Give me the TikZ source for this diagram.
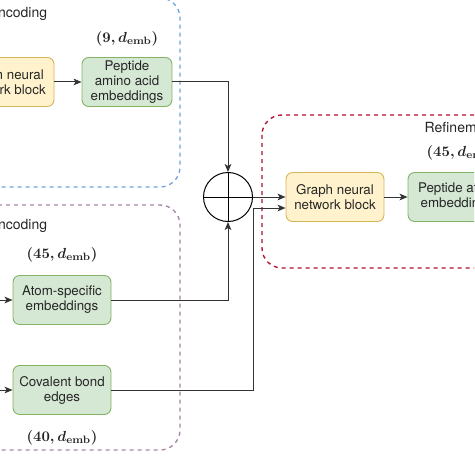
\documentclass[tikz,border=0pt]{standalone}
\usepackage{amsmath}
\usepackage{xcolor}
\usepackage[no-math]{fontspec}
\setmainfont{TeX Gyre Heros}
\usetikzlibrary{arrows.meta}
\usetikzlibrary{positioning}
\definecolor{gnnfill}{HTML}{FFF2CC}
\definecolor{gnndraw}{HTML}{D6B656}
\definecolor{embfill}{HTML}{D5E8D4}
\definecolor{embdraw}{HTML}{82B366}
\definecolor{seqframe}{HTML}{6FA3DC}
\definecolor{atomframe}{HTML}{A385A5}
\definecolor{refframe}{HTML}{B2102E}
\colorlet{linkcol}{black!80}
\newcommand{\embdim}[1]{{\boldmath$(#1, d_{\mathrm{emb}})$}}

\begin{document}
\begin{tikzpicture}[
x=0.75pt, y=-0.75pt,
Block/.style={draw, rounded corners=5pt, line width=0.7pt, minimum width=73.5pt,
  minimum height=36.75pt, inner sep=1pt, align=center, text=black!85,
  font=\fontsize{10}{11.25}\selectfont},
GnnBlock/.style={Block, draw=gnndraw, fill=gnnfill},
EmbBlock/.style={Block, draw=embdraw, fill=embfill},
Frame/.style={line width=1pt, dash pattern=on 3pt off 3pt, rounded corners=15pt},
Link/.style={draw=linkcol, line width=0.75pt, -{Stealth[length=6pt, width=5pt, inset=1.5pt]}},
Title/.style={anchor=west, text=black!85, font=\fontsize{10.5}{12}\selectfont},
Shape/.style={text=black!85, font=\fontsize{11}{12}\selectfont}
]
\clip (0,0) rectangle (474,474);

% frames
\draw[Frame, seqframe] (-30,-2) rectangle (180,187);
\draw[Frame, atomframe] (-30,205) rectangle (180,450);
\draw[Frame, refframe] (262,115) rectangle (530,268);

\node[Title] (seqtitle) at (-16,14) {Encoding};
\node[Title] (atomtitle) at (-16,226) {Encoding};
\node[Title] (reftitle) at (420,127) {Refinement};

% sequence branch
\node[GnnBlock] (gnnA) at (5,82) {Graph neural\\network block};
\node[EmbBlock, minimum width=67.5pt] (pepA) at (127,82) {Peptide\\amino acid\\embeddings};
\node[Shape] (pepAdim) at (127,39) {\embdim{9}};

% atom branch
\node[EmbBlock] (atom) at (62,300) {Atom-specific\\embeddings};
\node[EmbBlock] (bond) at (62,390) {Covalent bond\\edges};
\node[Shape] (atomdim) at (62,255) {\embdim{45}};
\node[Shape] (bonddim) at (62,438) {\embdim{40}};
\coordinate (inAtom) at (-30,300);
\coordinate (inBond) at (-30,390);

% sum
\node[draw, circle, line width=0.75pt, minimum size=36.75pt, inner sep=0pt] (sum) at (228,197) {};
\draw[line width=0.75pt] (sum.north) -- (sum.south) (sum.west) -- (sum.east);

% refinement
\node[GnnBlock] (gnnR) at (335,197) {Graph neural\\network block};
\node[EmbBlock] (pepR) at (457,197) {Peptide atom\\embeddings};
\node[Shape, anchor=west] (pepRdim) at (422,153) {\embdim{45}};
\coordinate (turn) at (253,208);

% links
\draw[Link] (gnnA) -- (pepA);
\draw[Link] (pepA.east) -| (sum.north);
\draw[Link] (inAtom) -- (atom);
\draw[Link] (inBond) -- (bond);
\draw[Link] (atom.east) -| (sum.south);
\draw[Link, rounded corners=0pt] (bond.east) -| (turn) -- (turn -| gnnR.west);
\draw[Link] (sum.east) -- (gnnR.west);
\draw[Link] (gnnR) -- (pepR);

\end{tikzpicture}
\end{document}
